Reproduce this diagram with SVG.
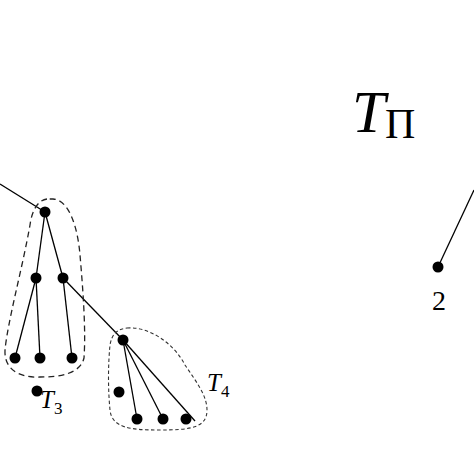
<svg xmlns="http://www.w3.org/2000/svg" width="474" height="474" viewBox="0 0 474 474">
<style>
.e{stroke:#000;stroke-width:1.3;fill:none}
.d{stroke:#222;stroke-width:1.3;fill:none;stroke-dasharray:6,4}
.d2{stroke:#333;stroke-width:1.1;fill:none;stroke-dasharray:3.5,2.5}
.n{fill:#000}
.t{font-family:'Liberation Serif','DejaVu Serif','Times New Roman',serif;fill:#000}
</style>
<rect width="474" height="474" fill="#fff"/>
<g id="connectors">
<line class="e" x1="0" y1="184" x2="45" y2="212"/>
<line class="e" x1="45" y1="212" x2="36" y2="278"/>
<line class="e" x1="45" y1="212" x2="63" y2="278"/>
<line class="e" x1="36" y1="278" x2="15" y2="358"/>
<line class="e" x1="36" y1="278" x2="40" y2="358"/>
<line class="e" x1="63" y1="278" x2="72" y2="358"/>
<line class="e" x1="63" y1="278" x2="123" y2="340"/>
<line class="e" x1="123" y1="340" x2="137" y2="419"/>
<line class="e" x1="123" y1="340" x2="163" y2="419"/>
<line class="e" x1="123" y1="340" x2="195" y2="421"/>
<line class="e" x1="474" y1="190" x2="438" y2="267"/>
</g>
<g id="T3">
<path class="d" d="M47,199 C38,200 32,210 30,225 C22,270 8,320 5,350 C4,370 20,378 40,377 C60,377 80,374 84,358 C86,330 83,290 80,255 C78,230 70,200 53,199 Z"/>
<circle class="n" cx="45" cy="212" r="5.5"/>
<circle class="n" cx="36" cy="278" r="5.5"/>
<circle class="n" cx="63" cy="278" r="5.5"/>
<circle class="n" cx="15" cy="358" r="5.5"/>
<circle class="n" cx="40" cy="358" r="5.5"/>
<circle class="n" cx="72" cy="358" r="5.5"/>
<circle class="n" cx="37" cy="391" r="5.5"/>
<text class="t" x="40" y="408" font-size="25" font-style="italic">T</text>
<text class="t" x="54" y="414" font-size="17">3</text>
</g>
<g id="T4">
<path class="d2" d="M127,328 C150,326 175,345 185,365 C195,380 207,395 207,410 C207,428 190,430 160,430 C130,430 112,428 110,410 C108,390 108,365 110,345 C112,333 118,329 127,328 Z"/>
<circle class="n" cx="123" cy="340" r="5.5"/>
<circle class="n" cx="119" cy="392" r="5.5"/>
<circle class="n" cx="137" cy="419" r="5.5"/>
<circle class="n" cx="163" cy="419" r="5.5"/>
<circle class="n" cx="186" cy="419" r="5.5"/>
<text class="t" x="207" y="391" font-size="25" font-style="italic">T</text>
<text class="t" x="221" y="397" font-size="17">4</text>
</g>
<g id="TPi">
<text class="t" x="352" y="132" font-size="60" font-style="italic">T</text>
<text class="t" x="385" y="138" font-size="42">Π</text>
</g>
<g id="n2">
<circle class="n" cx="438" cy="267" r="5.5"/>
<text class="t" x="439" y="310" font-size="28" text-anchor="middle">2</text>
</g>
</svg>
